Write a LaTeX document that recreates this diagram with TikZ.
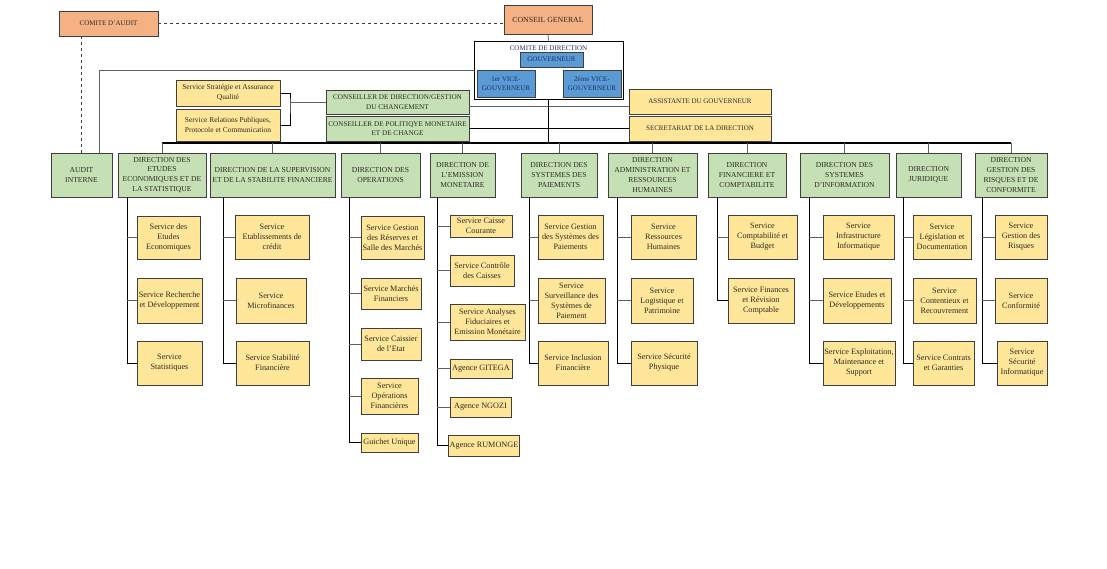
\documentclass[tikz,border=0pt]{standalone}
\usepackage{fontspec}
\setmainfont{Liberation Serif}
\usepackage{tikz}
\definecolor{bcbSalmon}{HTML}{F4B183}
\definecolor{bcbGreen}{HTML}{C5E0B4}
\definecolor{bcbYellow}{HTML}{FFE699}
\definecolor{bcbBlue}{HTML}{5B9BD5}
\definecolor{bcbNavy}{HTML}{1F2F5F}
\definecolor{bcbLine}{HTML}{3F3F3F}
\definecolor{bcbGrey}{HTML}{606060}
\definecolor{bcbText}{HTML}{2E2A24}
\newcommand\capsfont{\fontsize{7}{9.5}\selectfont}
\newcommand\dirfont{\fontsize{7.6}{9.8}\selectfont}
\newcommand\svcfont{\fontsize{8.2}{10}\selectfont}

\begin{document}
\begin{tikzpicture}[
    x=1pt, y=-1pt,
    every node/.style={align=center, inner sep=1pt, text=bcbText},
    sz/.style 2 args={minimum width=#1, minimum height=#2},
    board/.style={draw=bcbLine, line width=0.9pt, fill=bcbSalmon, font=\capsfont},
    gov/.style={draw=bcbLine, line width=0.9pt, fill=bcbBlue, text=bcbNavy, font=\capsfont},
    dirbox/.style={draw=bcbLine, line width=0.9pt, fill=bcbGreen, font=\dirfont},
    staff/.style={draw=bcbLine, line width=0.9pt, fill=bcbYellow, font=\capsfont},
    svc/.style={draw=bcbLine, line width=0.9pt, fill=bcbYellow, font=\svcfont},
    link/.style={draw=bcbGrey, line width=0.8pt},
    spine/.style={draw=black, line width=0.8pt},
    bus/.style={draw=black, line width=1.8pt},
]
\useasboundingbox (0,0) rectangle (1107,569);

% ----------------------------------------------------------------------
% Top: boards and management committee
% ----------------------------------------------------------------------
\node[board, sz={99}{25}] (cda) at (108.5,23.5) {COMITE D'AUDIT};
\node[board, font=\fontsize{7.8}{9.5}\selectfont, sz={88}{29}] (cg) at (548,19.5)
    {CONSEIL GENERAL};

\node[draw=black, line width=0.9pt, fill=white, sz={149}{58}] (cdir) at (548.5,70) {};
\node[text=bcbNavy, font=\capsfont] (cdt) at (548.5,48.5) {COMITE DE DIRECTION};
\node[gov, sz={63}{15}] (gv) at (551.5,59.5) {GOUVERNEUR};
\node[gov, sz={58}{27}] (vg1) at (506,83.5) {1er VICE-\\GOUVERNEUR};
\node[gov, sz={58}{27}] (vg2) at (592,83.5) {2ème VICE-\\GOUVERNEUR};

% Staff units around the committee
\node[svc, font=\fontsize{7.5}{10}\selectfont, sz={104}{26}] (ss1) at (228,93)
    {Service Stratégie et Assurance\\Qualité};
\node[svc, font=\fontsize{7.5}{10}\selectfont, sz={104}{32}] (ss2) at (228,125)
    {Service Relations Publiques,\\Protocole et Communication};
\node[dirbox, font=\fontsize{7.2}{9.5}\selectfont, sz={143}{24}] (cs1) at (397.5,102)
    {CONSEILLER DE DIRECTION/GESTION\\DU CHANGEMENT};
\node[dirbox, font=\fontsize{7.2}{9.5}\selectfont, sz={143}{25}] (cs2) at (397.5,128.5)
    {CONSEILLER DE POLITIQYE MONETAIRE\\ET DE CHANGE};
\node[staff, sz={142}{25}] (as1) at (700,101.5) {ASSISTANTE DU GOUVERNEUR};
\node[staff, sz={142}{25}] (as2) at (700,128.5) {SECRETARIAT DE LA DIRECTION};

% ----------------------------------------------------------------------
% Directions (one row)
% ----------------------------------------------------------------------
\node[dirbox, sz={61}{44}] (d1) at (81.5,175) {AUDIT\\INTERNE};
\node[dirbox, sz={88}{44}] (d2) at (162,175)
    {DIRECTION DES\\ETUDES\\ECONOMIQUES ET DE\\LA STATISTIQUE};
\node[dirbox, sz={125}{44}] (d3) at (272.5,175)
    {DIRECTION DE LA SUPERVISION\\ET DE LA STABILITE FINANCIERE};
\node[dirbox, sz={79}{44}] (d4) at (380.5,175) {DIRECTION DES\\OPERATIONS};
\node[dirbox, sz={65}{44}] (d5) at (462.5,175) {DIRECTION DE\\L'EMISSION\\MONETAIRE};
\node[dirbox, sz={76}{44}] (d6) at (559,175) {DIRECTION DES\\SYSTEMES DES\\PAIEMENTS};
\node[dirbox, sz={89}{44}] (d7) at (652.5,175)
    {DIRECTION\\ADMINISTRATION ET\\RESSOURCES\\HUMAINES};
\node[dirbox, sz={78}{44}] (d8) at (747,175) {DIRECTION\\FINANCIERE ET\\COMPTABILITE};
\node[dirbox, sz={89}{44}] (d9) at (844.5,175) {DIRECTION DES\\SYSTEMES\\D'INFORMATION};
\node[dirbox, sz={65}{44}] (d10) at (928.5,175) {DIRECTION\\JURIDIQUE};
\node[dirbox, sz={72}{44}] (d11) at (1011,175)
    {DIRECTION\\GESTION DES\\RISQUES ET DE\\CONFORMITE};

% ----------------------------------------------------------------------
% Services under each direction
% ----------------------------------------------------------------------
% Etudes economiques
\node[svc, sz={63}{43}] (e1) at (168.5,237.5) {Service des\\Etudes\\Economiques};
\node[svc, sz={65}{45}] (e2) at (169.5,300.5) {Service Recherche\\et Développement};
\node[svc, sz={65}{44}] (e3) at (169.5,363) {Service\\Statistiques};
% Supervision
\node[svc, sz={74}{44}] (p1) at (272,237) {Service\\Etablissements de\\crédit};
\node[svc, sz={70}{45}] (p2) at (271,300.5) {Service\\Microfinances};
\node[svc, sz={73}{44}] (p3) at (272.5,363) {Service Stabilité\\Financière};
% Operations
\node[svc, sz={63}{43}] (o1) at (392.5,237.5)
    {Service Gestion\\des Réserves et\\Salle des Marchés};
\node[svc, sz={60}{31}] (o2) at (391,293.5) {Service Marchés\\Financiers};
\node[svc, sz={60}{32}] (o3) at (391,344) {Service Caissier\\de l'Etat};
\node[svc, sz={57}{36}] (o4) at (389.5,396) {Service\\Opérations\\Financières};
\node[svc, sz={57}{19}] (o5) at (389.5,442.5) {Guichet Unique};
% Emission monetaire
\node[svc, sz={62}{22}] (m1) at (481,226) {Service Caisse\\Courante};
\node[svc, sz={64}{31}] (m2) at (482,270.5) {Service Contrôle\\des Caisses};
\node[svc, sz={75}{36}] (m3) at (487.5,322)
    {Service Analyses\\Fiduciaires et\\Emission Monétaire};
\node[svc, sz={62}{19}] (m4) at (481,368.5) {Agence GITEGA};
\node[svc, sz={61}{20}] (m5) at (480.5,407) {Agence NGOZI};
\node[svc, sz={68}{21}] (m6) at (484,445.5) {Agence RUMONGE};
% Systemes des paiements
\node[svc, sz={65}{44}] (y1) at (570.5,237)
    {Service Gestion\\des Systèmes des\\Paiements};
\node[svc, sz={67}{45}] (y2) at (571.5,300.5)
    {Service\\Surveillance des\\Systèmes de\\Paiement};
\node[svc, sz={70}{44}] (y3) at (573,363) {Service Inclusion\\Financière};
% Administration et RH
\node[svc, sz={65}{44}] (a1) at (663.5,237) {Service\\Ressources\\Humaines};
\node[svc, sz={62}{45}] (a2) at (662,300.5) {Service\\Logistique et\\Patrimoine};
\node[svc, sz={66}{44}] (a3) at (664,363) {Service Sécurité\\Physique};
% Financiere et comptabilite
\node[svc, sz={69}{44}] (f1) at (762.5,237) {Service\\Comptabilité et\\Budget};
\node[svc, sz={66}{45}] (f2) at (761,300.5) {Service Finances\\et Révision\\Comptable};
% Systemes d'information
\node[svc, sz={71}{44}] (i1) at (858.5,237) {Service\\Infrastructure\\Informatique};
\node[svc, sz={68}{45}] (i2) at (857,300.5) {Service Etudes et\\Développements};
\node[svc, sz={72}{44}] (i3) at (859,363)
    {Service Exploitation,\\Maintenance et\\Support};
% Juridique
\node[svc, sz={58}{44}] (j1) at (942,237) {Service\\Législation et\\Documentation};
\node[svc, sz={63}{45}] (j2) at (944.5,300.5) {Service\\Contentieux et\\Recouvrement};
\node[svc, sz={61}{44}] (j3) at (943.5,363) {Service Contrats\\et Garanties};
% Risques et conformite
\node[svc, sz={52}{44}] (r1) at (1021,237) {Service\\Gestion des\\Risques};
\node[svc, sz={52}{45}] (r2) at (1021,300.5) {Service\\Conformité};
\node[svc, sz={50}{44}] (r3) at (1022,363) {Service\\Sécurité\\Informatique};

% ----------------------------------------------------------------------
% Connectors
% ----------------------------------------------------------------------
\draw[dashed, bcbLine, line width=0.7pt] (cda.east) -- (cda.east -| cg.west);
\draw[dashed, bcbLine, line width=0.7pt] (cda.south -| d1.north) -- (d1.north);
\draw[link] (cg.south) -- (cdir.north);
\draw[link] ([xshift=18pt]d1.north) |- (cdir.west);

% staff links
\coordinate (brk) at (290,102);
\draw[spine] (ss1.east) -| (brk) |- (ss2.east);
\draw[link] (brk) -- (cs1.west);
\draw[link] ([yshift=-4pt]cs1.east) -- ([yshift=-4pt]cs1.east -| as1.west);
\draw[spine] (cs2.east) -- (as2.west);

% main spine and bus
\coordinate (busL) at (162,143);
\coordinate (busR) at (1011,143);
\draw[bus] (cdir.south) -- (cdir.south |- busL);
\draw[bus] (busL) -- (busR);
\foreach \d in {d2,d3,d4,d5,d6,d7,d8,d9,d10,d11}
    \draw[link] (\d.north |- busL) -- (\d.north);

% service spines
\foreach \d/\x/\last in {d2/127/e3, d3/223/p3, d4/349/o5, d5/437/m6, d6/529/y3,
                         d7/617/a3, d8/717/f2, d9/809/i3, d10/903/j3, d11/982/r3} {
    \coordinate (sp\d) at (\x,197);
    \draw[spine] (sp\d) |- (\last.west);
}
\foreach \d/\s in {d2/e1, d2/e2, d3/p1, d3/p2, d4/o1, d4/o2, d4/o3, d4/o4,
                   d5/m1, d5/m2, d5/m3, d5/m4, d5/m5, d6/y1, d6/y2, d7/a1, d7/a2,
                   d8/f1, d9/i1, d9/i2, d10/j1, d10/j2, d11/r1, d11/r2}
    \draw[link] (sp\d |- \s.west) -- (\s.west);

\end{tikzpicture}
\end{document}
